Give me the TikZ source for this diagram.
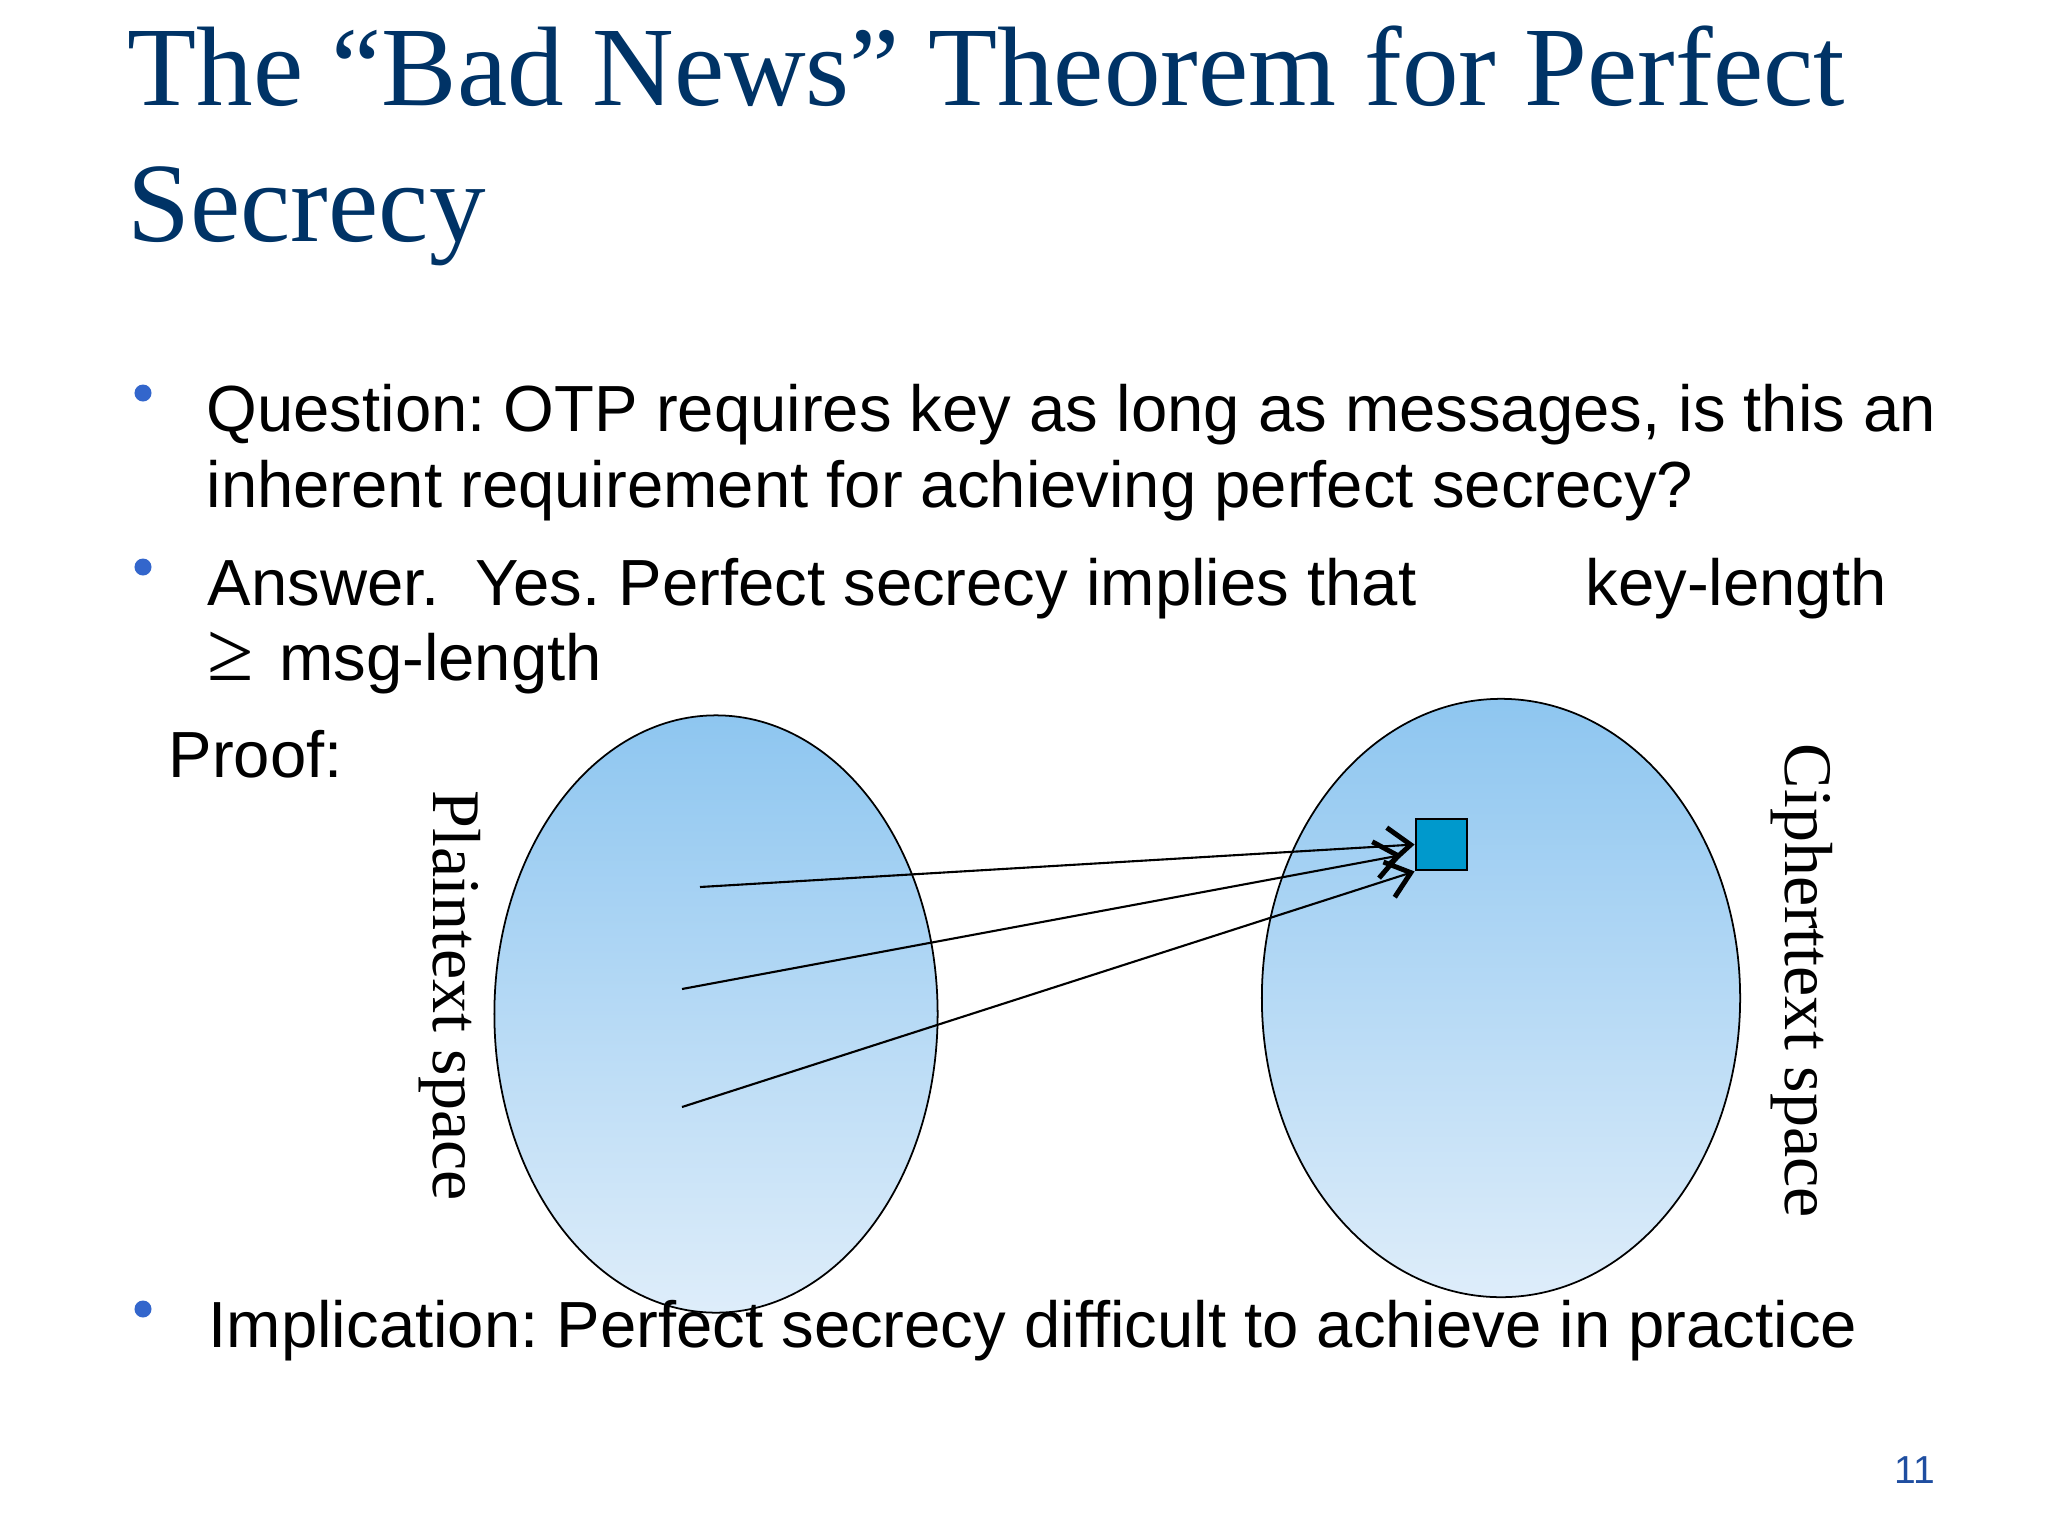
\documentclass[tikz,border=0pt]{standalone}
\usepackage{fontspec}
\setmainfont{Liberation Serif}
\setsansfont{Liberation Sans}
\usetikzlibrary{shapes.geometric,arrows.meta}
\definecolor{titleblue}{RGB}{0,51,102}
\definecolor{bulletblue}{RGB}{51,102,204}
\definecolor{pageblue}{RGB}{31,78,160}
\definecolor{elltop}{RGB}{142,198,240}
\definecolor{ellbot}{RGB}{222,237,250}
\definecolor{keysq}{RGB}{0,153,204}
\frenchspacing
\begin{document}
\begin{tikzpicture}[x=0.01cm,y=-0.01cm,
  titletext/.style={font=\fontsize{32.15}{38}\selectfont, text=titleblue, anchor=base west, inner sep=0},
  bodytext/.style={font=\sffamily\fontsize{18.55}{22}\selectfont, anchor=base west, inner sep=0},
  bulletdot/.style={circle, fill=bulletblue, minimum size=0.17cm, inner sep=0},
  space/.style={ellipse, draw=black, line width=0.5pt, top color=elltop, bottom color=ellbot, inner sep=0},
  spacelabel/.style={font=\fontsize{19.35}{22}\selectfont, rotate=-90, anchor=base west, inner sep=0},
  arr/.style={line width=0.6pt, -{Straight Barb[length=6.5pt,width=10.5pt,line width=1.4pt]}}
]
\useasboundingbox (0,0) rectangle (2048,1536);

% title
\node[titletext] (t1) at (127,105) {The “Bad News” Theorem for Perfect};
\node[titletext] (t2) at (127,241) {Secrecy};

% ellipses
\node[space, minimum width=4.43cm, minimum height=5.97cm] (P) at (716,1014) {};
\node[space, minimum width=4.78cm, minimum height=5.98cm] (C) at (1501,998) {};

% bullets
\node[bulletdot] (b1) at (143,393) {};
\node[bodytext] (q1) at (206,431) {Question: OTP requires key as long as messages, is this an};
\node[bodytext] (q2) at (206,507) {inherent requirement for achieving perfect secrecy?};
\node[bulletdot] (b2) at (143,567) {};
\node[bodytext] (a1) at (207,605) {Answer.\ \ Yes. Perfect secrecy implies that};
\node[bodytext] (a2) at (1585,605) {key-length};
\node[bodytext] (a3) at (207,680) {{\rmfamily\fontsize{24}{22}\selectfont ≥}\kern2pt{} msg-length};
\node[bodytext] (pf) at (168,777) {Proof:};
\node[bulletdot] (b3) at (143,1309) {};
\node[bodytext] (im) at (208,1347) {Implication: Perfect secrecy difficult to achieve in practice};

% labels
\node[spacelabel] (pl) at (433,790) {Plaintext space};
\node[spacelabel] (cl) at (1785,743) {Cipherttext space};

% key square
\node[draw=black, line width=0.8pt, fill=keysq, minimum size=0.51cm, inner sep=0] (K) at (1441.5,844.5) {};

% arrows
\coordinate (m1) at (700,887);
\coordinate (m2) at (682,989);
\coordinate (m3) at (682,1107);
\coordinate (e2) at (1402,855);
\draw[arr] (m1) -- (K.west);
\draw[arr] (m2) -- (e2);
\draw[arr] (m3) -- (K.south west);

% page number
\node[font=\sffamily\fontsize{11.1}{13}\selectfont, text=pageblue, anchor=base east, inner sep=0] (pg) at (1936,1483) {11};
\end{tikzpicture}
\end{document}
